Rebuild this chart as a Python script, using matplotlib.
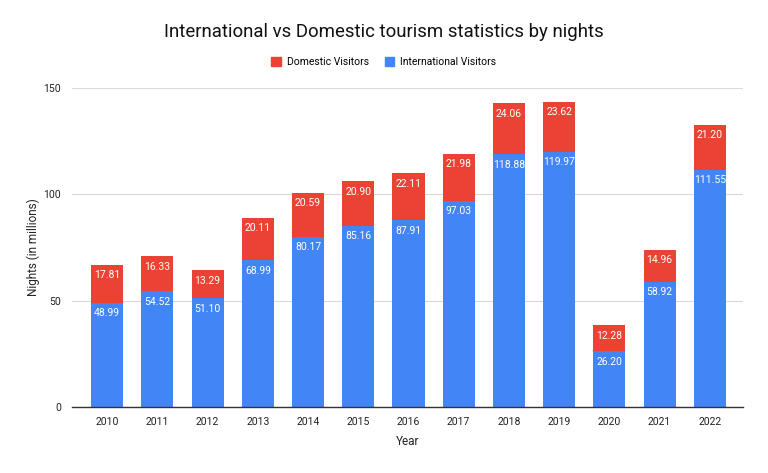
import matplotlib
matplotlib.use("Agg")
import matplotlib.pyplot as plt
from matplotlib.patches import Patch

years = ["2010", "2011", "2012", "2013", "2014", "2015", "2016",
         "2017", "2018", "2019", "2020", "2021", "2022"]
international = [48.99, 54.52, 51.10, 68.99, 80.17, 85.16, 87.91,
                 97.03, 118.88, 119.97, 26.20, 58.92, 111.55]
domestic = [17.81, 16.33, 13.29, 20.11, 20.59, 20.90, 22.11,
            21.98, 24.06, 23.62, 12.28, 14.96, 21.20]
yticks = [0, 50, 100, 150]

BLUE = "#4285F4"
RED = "#EA4335"

plt.rcParams['font.family'] = ['Roboto', 'DejaVu Sans']

fig = plt.figure(figsize=(7.68, 4.73), dpi=100)
ax = fig.add_axes([72/768, 1-407/473, (743-72)/768, (407-88)/473])

x = list(range(len(years)))
w = 0.64
ax.bar(x, international, width=w, color=BLUE, zorder=3)
ax.bar(x, domestic, width=w, bottom=international, color=RED, zorder=3)

for i in x:
    ax.annotate(f"{international[i]:.2f}", (i, international[i]), xytext=(0, -4),
                textcoords="offset points", ha="center", va="top",
                color="white", fontsize=7.5, zorder=4)
    ax.annotate(f"{domestic[i]:.2f}", (i, international[i] + domestic[i]), xytext=(0, -4),
                textcoords="offset points", ha="center", va="top",
                color="white", fontsize=7.5, zorder=4)

ax.set_xlim(-0.7, 12.66)
ax.set_ylim(0, 150)
ax.set_xticks(x)
ax.set_xticklabels(years)
ax.set_yticks(yticks)
ax.tick_params(axis="both", length=0, labelsize=7.5, labelcolor="#222222")
ax.tick_params(axis="x", pad=7)
ax.tick_params(axis="y", pad=8)
ax.grid(axis="y", color="#d9d9d9", linewidth=0.8, zorder=0)
for s in ["top", "right", "left"]:
    ax.spines[s].set_visible(False)
ax.spines["bottom"].set_color("#333333")
ax.spines["bottom"].set_linewidth(1.0)
ax.spines["bottom"].set_zorder(5)

ax.set_xlabel("Year", fontsize=8.5, color="#222222", labelpad=6)
ax.set_ylabel("Nights (in millions)", fontsize=8.5, color="#222222", labelpad=2)

fig.text(0.5, 1-32/473, "International vs Domestic tourism statistics by nights",
         ha="center", va="center", fontsize=13.4, color="#111111")

handles = [Patch(color=RED, label="Domestic Visitors"),
           Patch(color=BLUE, label="International Visitors")]
fig.legend(handles=handles, loc="center", bbox_to_anchor=(0.5, 1-62/473), ncol=2,
           frameon=False, fontsize=7.5, handlelength=0.9, handleheight=0.9,
           handletextpad=0.6, columnspacing=1.5)

fig.savefig("out.png", dpi=100)
